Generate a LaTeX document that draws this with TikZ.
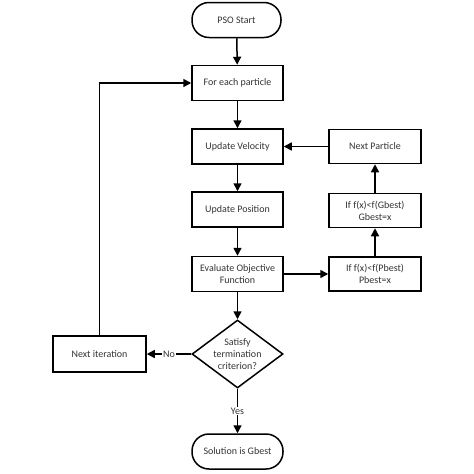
\documentclass[tikz,border=0pt]{standalone}
\usepackage{fontspec}
\setmainfont{Carlito}
\usetikzlibrary{arrows.meta,shapes.geometric}
\begin{document}
\begin{tikzpicture}[x=1pt,y=-1pt,
  every node/.style={font=\fontsize{10}{12}\selectfont, text=black!80},
  box/.style={draw=black, line width=1.5pt, rectangle, minimum width=91pt, minimum height=35pt, inner sep=0pt, align=center},
  term/.style={box, rounded corners=17pt},
  dec/.style={draw=black, line width=1.5pt, diamond, aspect=1.34, minimum width=91pt, minimum height=68pt, inner sep=0pt, align=center},
  conn/.style={line width=1.5pt, -{Triangle[length=8pt,width=8pt]}},
  lbl/.style={fill=white, inner sep=1pt}
]
\useasboundingbox (0,0) rectangle (474,474);
\node[term, minimum width=89pt] (start) at (236.5,20) {PSO Start};
\node[box] (each) at (237.5,83) {For each particle};
\node[box] (vel) at (237.5,146.5) {Update Velocity};
\node[box] (pos) at (237.5,209.5) {Update Position};
\node[box] (eval) at (237.5,274) {Evaluate Objective\\Function};
\node[dec] (dia) at (237.5,354) {Satisfy\\termination\\criterion?};
\node[term] (sol) at (237.5,451.5) {Solution is Gbest};
\node[box, minimum width=93pt, minimum height=36pt] (iter) at (99.5,354) {Next iteration};
\node[box, minimum width=92pt, minimum height=34pt] (np) at (375,146.5) {Next Particle};
\node[box, minimum width=92pt, minimum height=34pt] (gb) at (375,210.5) {If f(x)<f(Gbest)\\Gbest=x};
\node[box, minimum width=92pt, minimum height=34pt] (pb) at (375,274) {If f(x)<f(Pbest)\\Pbest=x};

\draw[conn] (start) -- (each);
\draw[conn] (each) -- (vel);
\draw[conn] (vel) -- (pos);
\draw[conn] (pos) -- (eval);
\draw[conn] (eval) -- (dia);
\draw[conn] (dia) -- node[lbl] {Yes} (sol);
\draw[conn] (dia) -- node[lbl] {No} (iter);
\draw[conn] (iter.north) |- (each.west);
\draw[conn] (eval.east) -- (pb.west);
\draw[conn] (pb) -- (gb);
\draw[conn] (gb) -- (np);
\draw[conn] (np.west) -- (vel.east);
\end{tikzpicture}
\end{document}
